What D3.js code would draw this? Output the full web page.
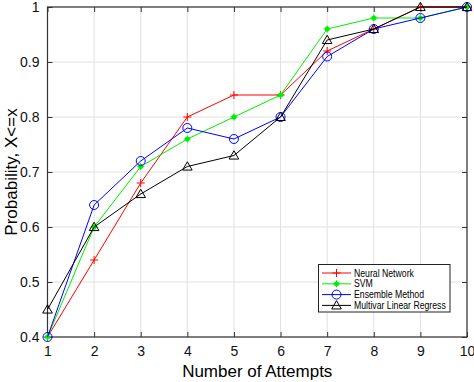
<!DOCTYPE html>
<html><head><meta charset="utf-8">
<script src="https://cdn.jsdelivr.net/npm/d3@7/dist/d3.min.js"></script>
<style>body{margin:0;background:#fff}svg{display:block}</style>
</head><body>
<script>
const attempts = [1,2,3,4,5,6,7,8,9,10];
const neuralNetwork = [0.40,0.54,0.68,0.80,0.84,0.84,0.92,0.96,1.00,1.00];
const svm = [0.40,0.60,0.71,0.76,0.80,0.84,0.96,0.98,0.98,1.00];
const ensemble = [0.40,0.64,0.72,0.78,0.76,0.80,0.91,0.96,0.98,1.00];
const mlr = [0.45,0.60,0.66,0.71,0.73,0.80,0.94,0.96,1.00,1.00];
const seriesNames = ["Neural Network","SVM","Ensemble Method","Multivar Linear Regress"];
const yTicks = [0.4,0.5,0.6,0.7,0.8,0.9,1];

const W=474,H=382;
const m={l:47.5,r:7,t:7,b:45};
const svg=d3.select("body").append("svg").attr("width",W).attr("height",H);
const x=d3.scaleLinear().domain([1,10]).range([m.l,W-m.r]);
const y=d3.scaleLinear().domain([0.4,1]).range([H-m.b,m.t]);
const font="Liberation Sans, Arial, sans-serif";

// grid
const g=svg.append("g");
g.selectAll(".gx").data(attempts).enter().append("line")
 .attr("x1",d=>x(d)).attr("x2",d=>x(d)).attr("y1",y(0.4)).attr("y2",y(1))
 .attr("stroke","#e0e0e0").attr("stroke-width",1);
g.selectAll(".gy").data(yTicks).enter().append("line")
 .attr("y1",d=>y(d)).attr("y2",d=>y(d)).attr("x1",x(1)).attr("x2",x(10))
 .attr("stroke","#e0e0e0").attr("stroke-width",1);

// axes
const tickStyle=sel=>{sel.select(".domain").remove();sel.selectAll("line").attr("stroke","#333");
 sel.selectAll("text").attr("font-family",font).attr("font-size",14).attr("fill","#111");};
svg.append("g").attr("transform",`translate(0,${y(0.4)})`)
 .call(d3.axisBottom(x).tickValues(attempts).tickSize(-5).tickPadding(9).tickFormat(d3.format("d"))).call(tickStyle);
svg.append("g").attr("transform",`translate(0,${y(1)})`)
 .call(d3.axisTop(x).tickValues(attempts).tickSize(-5).tickFormat("")).call(tickStyle);
svg.append("g").attr("transform",`translate(${x(1)},0)`)
 .call(d3.axisLeft(y).tickValues(yTicks).tickSize(-5).tickPadding(8).tickFormat(d=>d===1?"1":d3.format(".1f")(d))).call(tickStyle);
svg.append("g").attr("transform",`translate(${x(10)},0)`)
 .call(d3.axisRight(y).tickValues(yTicks).tickSize(-5).tickFormat("")).call(tickStyle);
svg.append("rect").attr("x",x(1)).attr("y",y(1)).attr("width",x(10)-x(1)).attr("height",y(0.4)-y(1))
 .attr("fill","none").attr("stroke","#333").attr("stroke-width",1.2);

// series
const series=[
 {name:seriesNames[0],vals:neuralNetwork,color:"#ff0000",marker:"plus"},
 {name:seriesNames[1],vals:svm,color:"#00ee00",marker:"dot"},
 {name:seriesNames[2],vals:ensemble,color:"#0000ff",marker:"circle"},
 {name:seriesNames[3],vals:mlr,color:"#000000",marker:"tri"}];
const line=d3.line().x((d,i)=>x(attempts[i])).y(d=>y(d));
function drawMarker(sel,s,cx,cy){
 if(s.marker==="plus"){
  sel.append("path").attr("d",`M${cx-4},${cy}H${cx+4}M${cx},${cy-4}V${cy+4}`).attr("stroke",s.color).attr("stroke-width",1);
 } else if(s.marker==="dot"){
  sel.append("circle").attr("cx",cx).attr("cy",cy).attr("r",2.5).attr("fill",s.color);
  sel.append("path").attr("d",`M${cx-3.5},${cy}H${cx+3.5}M${cx},${cy-3.5}V${cy+3.5}`).attr("stroke",s.color).attr("stroke-width",1);
 } else if(s.marker==="circle"){
  sel.append("circle").attr("cx",cx).attr("cy",cy).attr("r",4.5).attr("fill","none").attr("stroke",s.color).attr("stroke-width",1);
 } else {
  sel.append("path").attr("d",d3.symbol(d3.symbolTriangle,40)()).attr("transform",`translate(${cx},${cy+0.8})`)
   .attr("fill","none").attr("stroke",s.color).attr("stroke-width",1);
 }
}
series.forEach(s=>{
 const sg=svg.append("g");
 sg.append("path").datum(s.vals).attr("d",line).attr("fill","none").attr("stroke",s.color).attr("stroke-width",1);
 s.vals.forEach((v,i)=>drawMarker(sg,s,x(attempts[i]),y(v)));
});

// labels
svg.append("text").attr("x",(x(1)+x(10))/2).attr("y",377).attr("text-anchor","middle")
 .attr("font-family",font).attr("font-size",17).text("Number of Attempts");
svg.append("text").attr("transform",`translate(17,${(y(0.4)+y(1))/2}) rotate(-90)`).attr("text-anchor","middle")
 .attr("font-family",font).attr("font-size",17).text("Probability, X<=x");

// legend
const lg=svg.append("g");
lg.append("rect").attr("x",318.5).attr("y",264.5).attr("width",131.5).attr("height",47.5)
 .attr("fill","#fff").attr("stroke","#222").attr("stroke-width",1);
series.forEach((s,i)=>{
 const yy=273+i*10.8;
 lg.append("line").attr("x1",322).attr("x2",351).attr("y1",yy).attr("y2",yy).attr("stroke",s.color).attr("stroke-width",1);
 drawMarker(lg,s,336.5,yy);
 lg.append("text").attr("transform",`translate(354,${yy+3.6}) scale(0.87,1)`)
  .attr("font-family",font).attr("font-size",10).text(s.name);
});
</script>
</body></html>
